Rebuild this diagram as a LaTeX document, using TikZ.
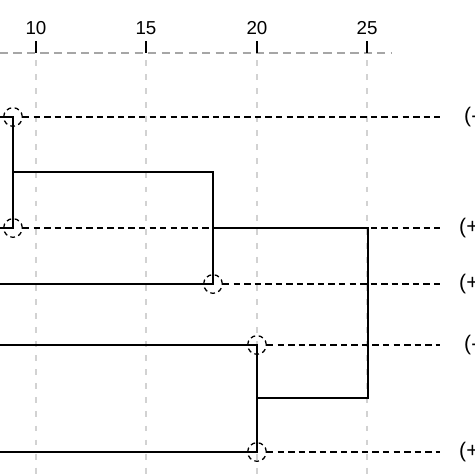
\documentclass[tikz,border=0pt]{standalone}
\usepackage{fontspec}
\setmainfont{Liberation Sans}
\usetikzlibrary{arrows.meta, positioning}
\usetikzlibrary{calc}

\tikzset{
  branch/.style={line width=1.8pt},
  leafline/.style={line width=1.6pt, dash pattern=on 5.5pt off 3.5pt},
  joint/.style={circle, draw, line width=1.1pt, dash pattern=on 4pt off 3pt, minimum size=0.56cm, inner sep=0pt},
  gridline/.style={gray!35, line width=1.3pt, dash pattern=on 5pt off 7pt},
  axisline/.style={gray!70, line width=1.8pt, dash pattern=on 7pt off 4.5pt},
  ticklabel/.style={font=\fontsize{16}{18}\selectfont},
  rowlabel/.style={anchor=west, inner sep=0pt, font=\fontsize{18}{20}\selectfont},
}

\begin{document}
\begin{tikzpicture}[x=0.03cm, y=-0.03cm]
\useasboundingbox (0,0) rectangle (474,474);
\clip (0,0) rectangle (474,474);
% scale on top
\coordinate (ax0) at (0,53);
\coordinate (ax1) at (392,53);
\draw[axisline] (ax0) -- (ax1);
\foreach \v/\x in {10/36, 15/146, 20/257, 25/367} {
  \node[ticklabel] (t\v) at (\x,28) {\v};
  \coordinate (tk\v) at (\x,41);
  \coordinate (tb\v) at (\x,53);
  \coordinate (g\v) at (\x,60);
  \coordinate (gb\v) at (\x,474);
  \draw[gridline] (g\v) -- (gb\v);
  \draw[line width=1.4pt] (tk\v) -- (tb\v);
}
% leaves
\coordinate (l1) at (0,117);
\coordinate (l2) at (0,228);
\coordinate (l3) at (0,284);
\coordinate (l4) at (0,345);
\coordinate (l5) at (0,452);
\node[joint] (j1) at (13,117) {};
\node[joint] (j2) at (13,228) {};
\node[joint] (j3) at (213,284) {};
\node[joint] (j4) at (257,345) {};
\node[joint] (j5) at (257,452) {};
% row ends
\coordinate (e1) at (440,117);
\coordinate (e2) at (440,228);
\coordinate (e3) at (440,284);
\coordinate (e4) at (440,345);
\coordinate (e5) at (440,452);
\draw[leafline] (j1.east) -- (e1);
\draw[leafline] (j2.east) -- (e2);
\draw[leafline] (j3.east) -- (e3);
\draw[leafline] (j4.east) -- (e4);
\draw[leafline] (j5.east) -- (e5);
% merges
\coordinate (m12) at (13,172);
\coordinate (m12r) at (213,172);
\coordinate (m123) at (213,228);
\coordinate (m123r) at (368,228);
\coordinate (m45) at (257,398);
\coordinate (m45r) at (368,398);
\draw[branch] (l1) -- (j1.center) -- (j2.center) -- (l2);
\draw[branch] (m12) -- (m12r) -- (j3.center) -- (l3);
\draw[branch] (l4) -- (j4.center) -- (j5.center) -- (l5);
\draw[branch] (m123) -- (m123r) -- (m45r) -- (m45);
% labels
\node[rowlabel] (lab1) at (464,117) {(-};
\node[rowlabel] (lab2) at (459,228) {(+};
\node[rowlabel] (lab3) at (459,284) {(+};
\node[rowlabel] (lab4) at (464,345) {(-};
\node[rowlabel] (lab5) at (459,452) {(+};
\end{tikzpicture}
\end{document}
